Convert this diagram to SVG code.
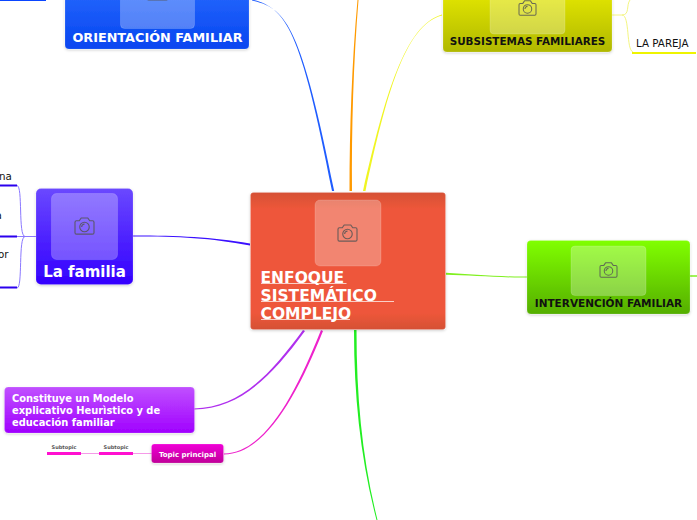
<svg xmlns="http://www.w3.org/2000/svg" width="697" height="520" viewBox="0 0 697 520">
<style>
text{font-family:"DejaVu Sans",Verdana,sans-serif;font-weight:700}
.c{fill:none}
.ph{fill:#fff;fill-opacity:.28;stroke:#fff;stroke-opacity:.15}
.cam{fill:none;stroke:#555;stroke-opacity:.85;stroke-width:1.2;stroke-linejoin:round}
.leaf{font-family:"DejaVu Sans",Verdana,sans-serif;font-weight:400;font-size:10.300px;fill:#111}
.sub{font-size:5px;fill:#555}
.n{filter:url(#sh);stroke:#fff;stroke-opacity:.25;stroke-width:.6}
</style>
<defs>
<filter id="sh" x="-10%" y="-10%" width="120%" height="125%"><feDropShadow dx="0" dy="1" stdDeviation="1.500" flood-color="#000" flood-opacity=".2"/></filter>
<linearGradient id="gr" x1="0" y1="0" x2="0" y2="1"><stop offset="0" stop-color="#d55034"/><stop offset=".12" stop-color="#ee573a"/><stop offset=".88" stop-color="#ee573a"/><stop offset="1" stop-color="#d55034"/></linearGradient>
<linearGradient id="gb" x1="0" y1="0" x2="0" y2="1"><stop offset="0" stop-color="#2a6cff"/><stop offset="1" stop-color="#0645f0"/></linearGradient>
<linearGradient id="gy" x1="0" y1="0" x2="0" y2="1"><stop offset="0" stop-color="#eef000"/><stop offset="1" stop-color="#b0b800"/></linearGradient>
<linearGradient id="gv" x1="0" y1="0" x2="0" y2="1"><stop offset="0" stop-color="#6a48ff"/><stop offset="1" stop-color="#3300ff"/></linearGradient>
<linearGradient id="gg" x1="0" y1="0" x2="0" y2="1"><stop offset="0" stop-color="#80ff00"/><stop offset="1" stop-color="#55ae00"/></linearGradient>
<linearGradient id="gp" x1="0" y1="0" x2="0" y2="1"><stop offset="0" stop-color="#c050ff"/><stop offset="1" stop-color="#a000ff"/></linearGradient>
<linearGradient id="gm" x1="0" y1="0" x2="0" y2="1"><stop offset="0" stop-color="#f000d8"/><stop offset="1" stop-color="#c00098"/></linearGradient>
<symbol id="camera" viewBox="0 0 22 20" overflow="visible"><path class="cam" d="M1 5.500q0-1.500 1.500-1.500h3l2-3h7l2 3h3q1.500 0 1.500 1.500v11q0 1.500-1.500 1.500h-17q-1.500 0-1.500-1.500z"/><circle class="cam" cx="11" cy="10.500" r="5"/><path class="cam" d="M8 10.500a3 3 0 0 1 3-3"/></symbol>
</defs>
<g id="connectors" class="c">
<path d="M252 -.5C285 8 300 25 332 191L334.200 191C301 25 286 8 252 .5Z" fill="#1f5cff"/>
<path d="M357.500 0C352 60 349.500 130 349.500 191L352 191C351.500 130 353.500 60 358.500 0Z" fill="#ff9a00"/>
<path d="M442 14.500C405 25 385 95 363 191L365.500 191C386 95 405 25 442 15.500Z" fill="#f0f522"/>
<path d="M133 235.500C180 235.500 210 237 250 243.500L250 245.500C210 238 180 236.500 133 236.500Z" fill="#3a10ff"/>
<path d="M446 272.800C470 274 500 277 527 276.500L527 277.500C500 278 470 275 446 274.800Z" fill="#80f020"/>
<path d="M690 276L697 276" stroke="#80f020" stroke-width="1.500"/>
<path d="M354 330C354 400 361 460 376.500 520L377.500 520C362.500 460 356.500 400 356.500 330Z" fill="#22ee22"/>
<path d="M303 330C270 375 240 407.500 194 408.500L194 409.500C240 409 272 376 305 331Z" fill="#b030ee"/>
<path d="M321 330C295 395 265 452.500 224 453.500L224 454.500C265 454 297 396 323 331Z" fill="#ee22cc"/>
<path d="M36 236.500H25C18 236 23 186 17 185.500M25 236.500C18 237 23 288 17 288M25 236.500H17" stroke="#8b78ff" stroke-width="1"/>
<path d="M0 185.500H17M0 236.500H17M0 287.500H17" stroke="#2b00ee" stroke-width="2"/>
<path d="M0 0H46" stroke="#0a45ff" stroke-width="2"/>
<path d="M612 15H622C630 15 626 5 630 0M622 15C630 15 626 50 633 52" stroke="#f4f680" stroke-width="1"/>
<path d="M632 53H696" stroke="#eef400" stroke-width="2"/>
<path d="M81 453.500H99M133 453.500H152" stroke="#f59ae8" stroke-width="1"/>
<path d="M47 453.500H81M99 453.500H133" stroke="#ff10d0" stroke-width="3"/>
</g>
<g id="node-center"><rect class="n" x="250.500" y="192.500" width="195" height="137" rx="3" fill="url(#gr)"/><rect class="ph" x="315" y="200" width="66" height="66" rx="5"/><use href="#camera" x="337" y="224" width="21" height="19"/>
<g fill="#fff" font-size="15.500"><text x="260.500" y="282.700">ENFOQUE </text><text x="260.500" y="300.700">SISTEMÁTICO </text><text x="260.500" y="318.700">COMPLEJO</text></g>
<path d="M261 283.500H346.500M261 301.500H394M261 319.500H350" stroke="#fff" stroke-width=".8" stroke-opacity=".9"/></g>
<g id="node-orientacion"><rect class="n" x="65" y="-20" width="184" height="69" rx="4" fill="url(#gb)"/><rect class="ph" x="120.500" y="-20" width="74" height="48.500" rx="4"/><use href="#camera" x="146" y="-19" width="23" height="21"/><text x="157.500" y="42" font-size="12.800" fill="#fff" text-anchor="middle">ORIENTACIÓN FAMILIAR</text></g>
<g id="node-subsistemas"><rect class="n" x="443" y="-20" width="169" height="72" rx="4" fill="url(#gy)"/><rect class="ph" x="490" y="-20" width="75" height="54" rx="4"/><use href="#camera" x="518" y="0" width="19" height="17"/><text x="527.500" y="45" font-size="10.400" fill="#111" text-anchor="middle">SUBSISTEMAS FAMILIARES</text></g>
<g id="node-pareja"><text class="leaf" x="636" y="47">LA PAREJA</text></g>
<g id="node-familia"><rect class="n" x="36" y="188.500" width="97" height="96" rx="5" fill="url(#gv)"/><rect class="ph" x="51.500" y="193.500" width="66" height="66" rx="5"/><use href="#camera" x="74" y="217" width="21" height="19"/><text x="84.500" y="277" font-size="15" fill="#fff" text-anchor="middle">La familia</text></g>
<g id="node-leaves-left"><text class="leaf" x="-1" y="180">na</text><text class="leaf" x="-4.500" y="218.500">a</text><text class="leaf" x="-2" y="258">or</text></g>
<g id="node-intervencion"><rect class="n" x="527" y="240.500" width="163" height="73.500" rx="4" fill="url(#gg)"/><rect class="ph" x="571" y="246" width="75" height="49.500" rx="4"/><use href="#camera" x="599" y="262" width="19" height="17"/><text x="608.500" y="307" font-size="10.500" fill="#111" text-anchor="middle">INTERVENCIÓN FAMILIAR</text></g>
<g id="node-modelo"><rect class="n" x="4.500" y="387" width="190" height="46" rx="4" fill="url(#gp)"/><g font-size="9.900" fill="#fff"><text x="12" y="402">Constituye un Modelo</text><text x="12" y="414">explicativo Heurìstico y de</text><text x="12" y="426">educación familiar</text></g></g>
<g id="node-topic"><rect class="n" x="151.500" y="444" width="72" height="19" rx="3" fill="url(#gm)"/><text x="187.500" y="456.500" font-size="7" fill="#fff" text-anchor="middle">Topic principal</text></g>
<g id="node-sub1"><text class="sub" x="64" y="449" text-anchor="middle">Subtopic</text></g>
<g id="node-sub2"><text class="sub" x="116" y="449" text-anchor="middle">Subtopic</text></g>
</svg>
